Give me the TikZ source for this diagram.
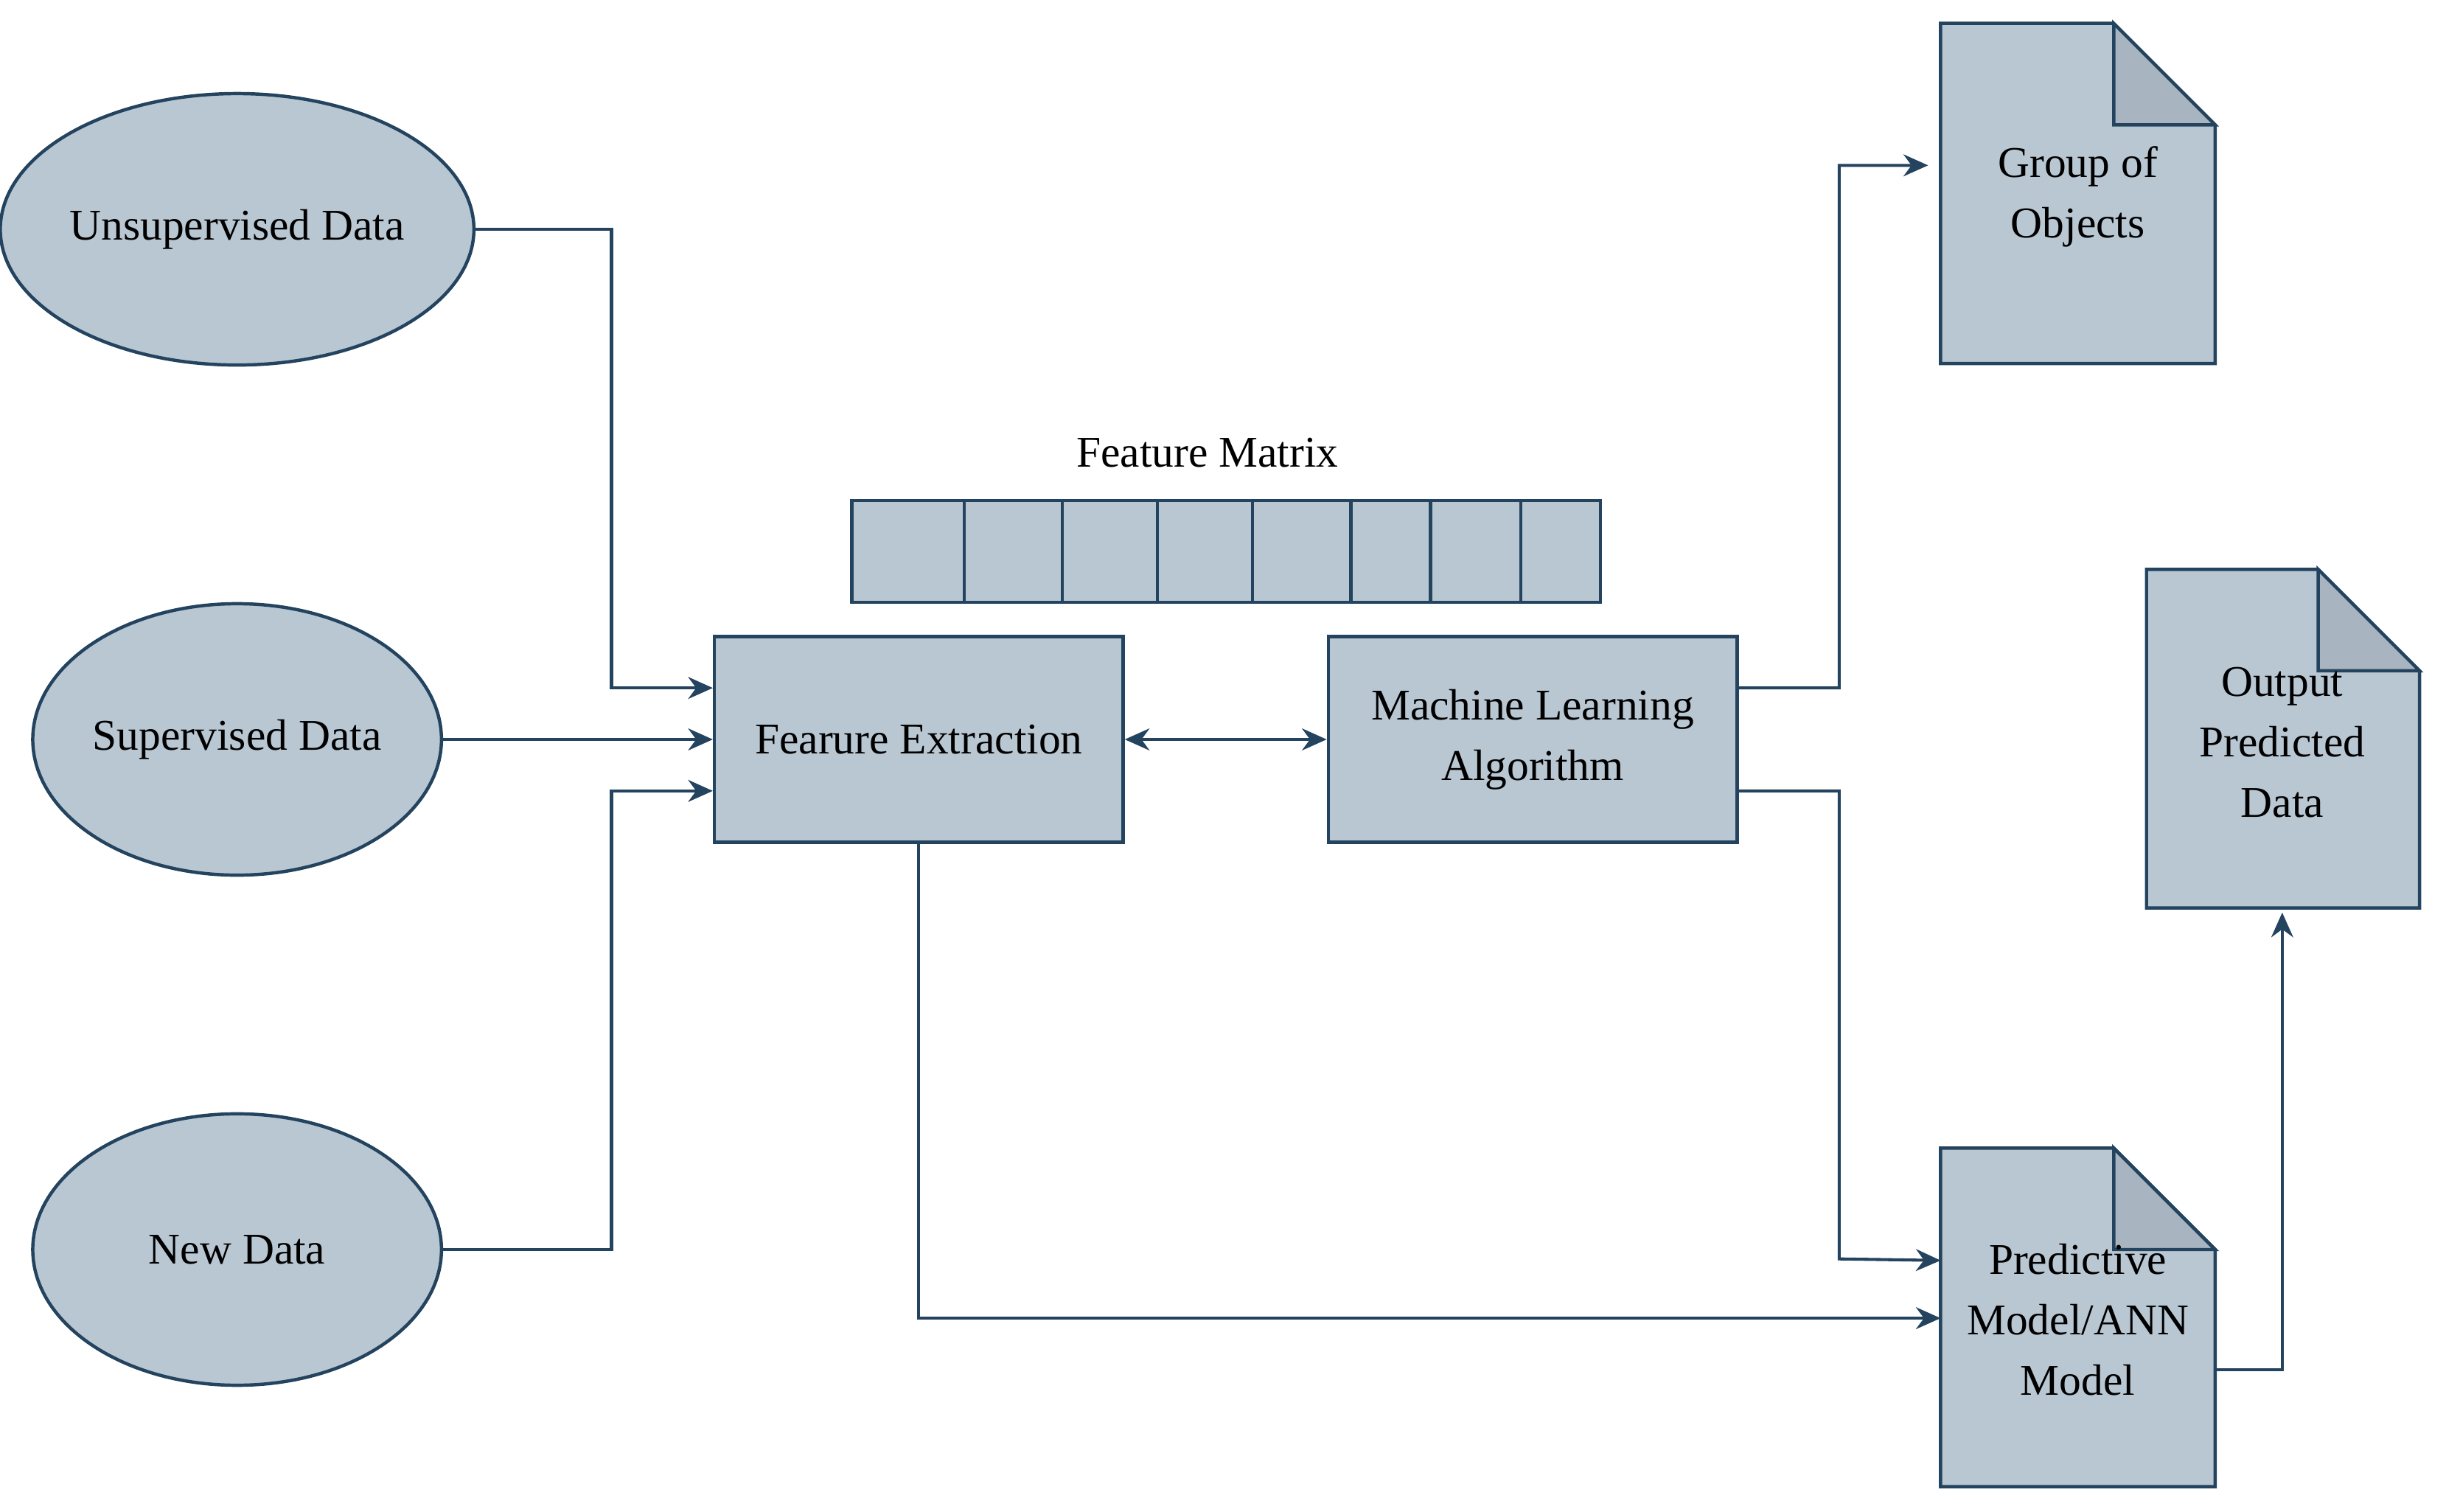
\documentclass[tikz,border=0pt]{standalone}
\usepackage{fontspec}
\setmainfont{Liberation Serif}
\usetikzlibrary{shapes.geometric,arrows.meta}
\definecolor{fillc}{HTML}{B9C7D3}
\definecolor{foldc}{HTML}{A8B5C0}
\definecolor{edge}{HTML}{23435E}
\begin{document}
\begin{tikzpicture}[x=0.02cm,y=-0.02cm,
  every node/.style={font=\fontsize{16}{22}\selectfont, text=black},
  ell/.style={ellipse,draw=edge,fill=fillc,line width=1.2pt,minimum width=262*0.02cm,minimum height=174*0.02cm,inner sep=0pt},
  box/.style={rectangle,draw=edge,fill=fillc,line width=1.2pt,minimum width=262*0.02cm,minimum height=132*0.02cm,inner sep=0pt,align=center},
  conn/.style={draw=edge,line width=1.1pt},
  arr/.style={conn,-{Stealth[length=9pt,width=8pt]}}]
\useasboundingbox (0,0) rectangle (1568,969);
% documents
\newcommand{\mydoc}[4]{% x1 y1 x2 y2
  \filldraw[draw=edge,fill=fillc,line width=1.2pt] (#1,#2) -- (#3-65,#2) -- (#3,#2+65) -- (#3,#4) -- (#1,#4) -- cycle;
  \filldraw[draw=edge,fill=foldc,line width=1.2pt] (#3-65,#2) -- (#3,#2+65) -- (#3-65,#2+65) -- cycle;}
\mydoc{1244}{15}{1420}{233}
\mydoc{1376}{365}{1551}{582}
\mydoc{1244}{736}{1420}{953}
\node[align=center] (go) at (1332,126) {Group of\\Objects};
\node[align=center] (op) at (1463,476) {Output\\Predicted\\Data};
\node[align=center] (pm) at (1332,846) {Predictive\\Model/ANN\\Model};
\coordinate (goin) at (1236,106);
\coordinate (opin) at (1463,585);
\coordinate (pmin1) at (1244,808);
\coordinate (pmin2) at (1244,845);
\coordinate (pmout) at (1420,878);
% ellipses
\node[ell] (u) at (152,147) {Unsupervised Data};
\node[ell] (s) at (152,474) {Supervised Data};
\node[ell] (n) at (152,801) {New Data};
% boxes
\node[box] (fe) at (589,474) {Fearure Extraction};
\node[box,align=center] (ml) at (982.5,474) {Machine Learning\\Algorithm};
% feature matrix
\draw[draw=edge,fill=fillc,line width=1.2pt] (546,321) rectangle (1026,386);
\foreach \x in {618,681,742,803,866,917,975} \draw[edge,line width=1.2pt] (\x,321) -- (\x,386);
\node (fm) at (774,290) {Feature Matrix};
% connectors
\draw[arr] (u.east) -- (392,147) |- ([yshift=0.66cm]fe.west);
\draw[arr] (s.east) -- (fe.west);
\draw[arr] (n.east) -- (392,801) |- ([yshift=-0.66cm]fe.west);
\draw[arr,{Stealth[length=9pt,width=8pt]}-{Stealth[length=9pt,width=8pt]}] (fe.east) -- (ml.west);
\draw[arr] ([yshift=0.66cm]ml.east) -- (1179,441) |- (goin);
\draw[arr] ([yshift=-0.66cm]ml.east) -- (1179,507) -- (1179,807) -- (pmin1);
\draw[arr] (fe.south) |- (pmin2);
\draw[arr] (pmout) -- (1463,878) -- (opin);
\end{tikzpicture}
\end{document}
